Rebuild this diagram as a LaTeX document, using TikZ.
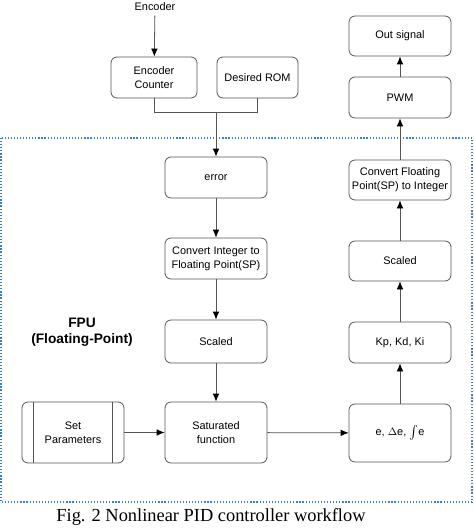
\documentclass[tikz,border=0pt]{standalone}
\usepackage{fontspec}
\setmainfont{Liberation Sans}
\newfontfamily\capfont{Liberation Serif}
\usetikzlibrary{arrows.meta}
\definecolor{edgegray}{HTML}{555555}
\definecolor{fpublue}{HTML}{3A80C4}
\begin{document}
\begin{tikzpicture}[
    x=0.75pt, y=-0.75pt,
    block/.style={rectangle, rounded corners=4.5pt, draw=edgegray, line width=0.6pt,
        minimum width=76.5pt, minimum height=30.75pt, align=center,
        font=\fontsize{8.2}{10.5}\selectfont, inner sep=1pt},
    arrow/.style={-{Latex[length=6pt,width=5pt,color=black]}, draw=edgegray, line width=0.6pt}
]
    \useasboundingbox (0,0) rectangle (474,528);

    % FPU region
    \draw[fpublue, line width=1pt, dash pattern=on 0.9pt off 1.4pt] (1,138) rectangle (472,502);
    \node[font=\fontsize{10.3}{12}\selectfont\bfseries, align=center] (fpu) at (82,332) {FPU\\(Floating-Point)};

    % Inputs
    \node[font=\fontsize{8.2}{10}\selectfont] (enc) at (155,7) {Encoder};
    \node[block, minimum width=64.5pt] (cnt) at (154,77.5) {Encoder\\Counter};
    \node[block, minimum width=60.75pt] (rom) at (257.5,77.5) {Desired ROM};

    % Left column (down)
    \node[block] (err) at (216,177.5) {error};
    \node[block] (itof) at (216,258.5) {Convert Integer to\\Floating Point(SP)};
    \node[block, minimum height=32.25pt] (scin) at (216,341.5) {Scaled};
    \node[block, minimum height=45.75pt] (sat) at (216,432.5) {Saturated\\function};
    \node[block, minimum height=45.75pt] (setp) at (73,432.5) {Set\\Parameters};
    \draw[edgegray, line width=0.6pt] ([xshift=9pt]setp.north west) -- ([xshift=9pt]setp.south west);
    \draw[edgegray, line width=0.6pt] ([xshift=-9pt]setp.north east) -- ([xshift=-9pt]setp.south east);

    % Right column (up)
    \node[block, minimum height=43.5pt] (pid) at (400,433) {e, $\Delta$e, $\int$e};
    \node[block] (gain) at (400,342.5) {Kp, Kd, Ki};
    \node[block, minimum height=30pt] (scout) at (400,261) {Scaled};
    \node[block, minimum height=30pt] (ftoi) at (400,180) {Convert Floating\\Point(SP) to Integer};
    \node[block] (pwm) at (400,97.5) {PWM};
    \node[block, minimum height=30pt] (out) at (400,36) {Out signal};

    % Connections
    \coordinate (jn) at (216,112);
    \draw[arrow] (enc) -- (cnt);
    \draw[edgegray, line width=0.6pt] (cnt.south) |- (jn);
    \draw[edgegray, line width=0.6pt] (rom.south) |- (jn);
    \draw[arrow] (jn) -- (err);
    \draw[arrow] (err) -- (itof);
    \draw[arrow] (itof) -- (scin);
    \draw[arrow] (scin) -- (sat);
    \draw[arrow] (setp) -- (sat);
    \draw[arrow] (sat) -- (pid);
    \draw[arrow] (pid) -- (gain);
    \draw[arrow] (gain) -- (scout);
    \draw[arrow] (scout) -- (ftoi);
    \draw[arrow] (ftoi) -- (pwm);
    \draw[arrow] (pwm) -- (out);

    % Caption
    \node[font=\capfont\fontsize{13.8}{16}\selectfont] (cap) at (211,517) {Fig. 2 Nonlinear PID controller workflow};
\end{tikzpicture}
\end{document}
